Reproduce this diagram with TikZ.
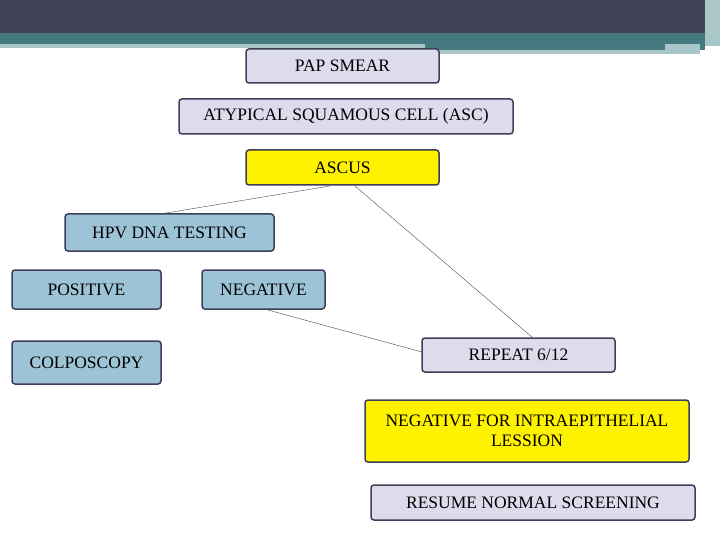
\documentclass[tikz,border=0pt]{standalone}
\usepackage{fontspec}
\setmainfont{Liberation Serif}
\definecolor{banner}{HTML}{424356}
\definecolor{teal}{HTML}{43797F}
\definecolor{paleteal}{HTML}{A9C6C9}
\definecolor{lav}{HTML}{DCDCEC}
\definecolor{sky}{HTML}{9DC3D6}
\definecolor{rim}{HTML}{3D3F58}
\tikzset{
  box/.style={draw=rim, line width=1.5pt, rounded corners=3pt, fill=lav,
    font=\fontsize{17.5}{20}\selectfont, inner sep=0pt, align=center},
  link/.style={draw=black!70, line width=0.4pt}
}
\begin{document}
\begin{tikzpicture}[x=1pt,y=-1pt]
\useasboundingbox (0,0) rectangle (720,540);
% Title banner
\fill[banner] (0,0) rectangle (720,33);
\fill[teal] (0,33) rectangle (705,44);
\fill[paleteal] (0,44) rectangle (425,48);
\fill[teal] (425,44) rectangle (705,50);
\fill[paleteal] (425,50) rectangle (665,54);
\fill[paleteal] (665,44) rectangle (700,54);
\fill[paleteal] (705,0) rectangle (720,46);

% Boxes
\node[box, minimum width=193, minimum height=34] (pap) at (342.5,66) {PAP SMEAR};
\node[box, minimum width=334, minimum height=35] (asc) at (346,116.5) {ATYPICAL SQUAMOUS CELL (ASC)};
\node[box, fill=yellow, minimum width=193, minimum height=35] (ascus) at (342.5,167.5) {ASCUS};
\node[box, fill=sky, minimum width=209, minimum height=37] (hpv) at (169.5,232.5) {HPV DNA TESTING};
\node[box, fill=sky, minimum width=149, minimum height=39] (pos) at (86.5,289.5) {POSITIVE};
\node[box, fill=sky, minimum width=123, minimum height=39] (neg) at (263.5,289.5) {NEGATIVE};
\node[box, fill=sky, minimum width=149, minimum height=43] (colp) at (86.5,362.5) {COLPOSCOPY};
\node[box, minimum width=193, minimum height=34] (rep) at (518.5,355) {REPEAT 6/12};
\node[box, fill=yellow, minimum width=324, minimum height=62] (nil) at (527,431) {NEGATIVE FOR INTRAEPITHELIAL\\LESSION};
\node[box, minimum width=324, minimum height=35] (res) at (533,502.5) {RESUME NORMAL SCREENING};

% Connectors
\coordinate (a1) at (330,186);
\coordinate (a2) at (355,186);
\coordinate (n1) at (268,310);
\coordinate (h1) at (160,214);
\coordinate (r1) at (533,338);
\coordinate (r2) at (422,352);
\draw[link] (a1) -- (h1);
\draw[link] (a2) -- (r1);
\draw[link] (n1) -- (r2);
\end{tikzpicture}
\end{document}
